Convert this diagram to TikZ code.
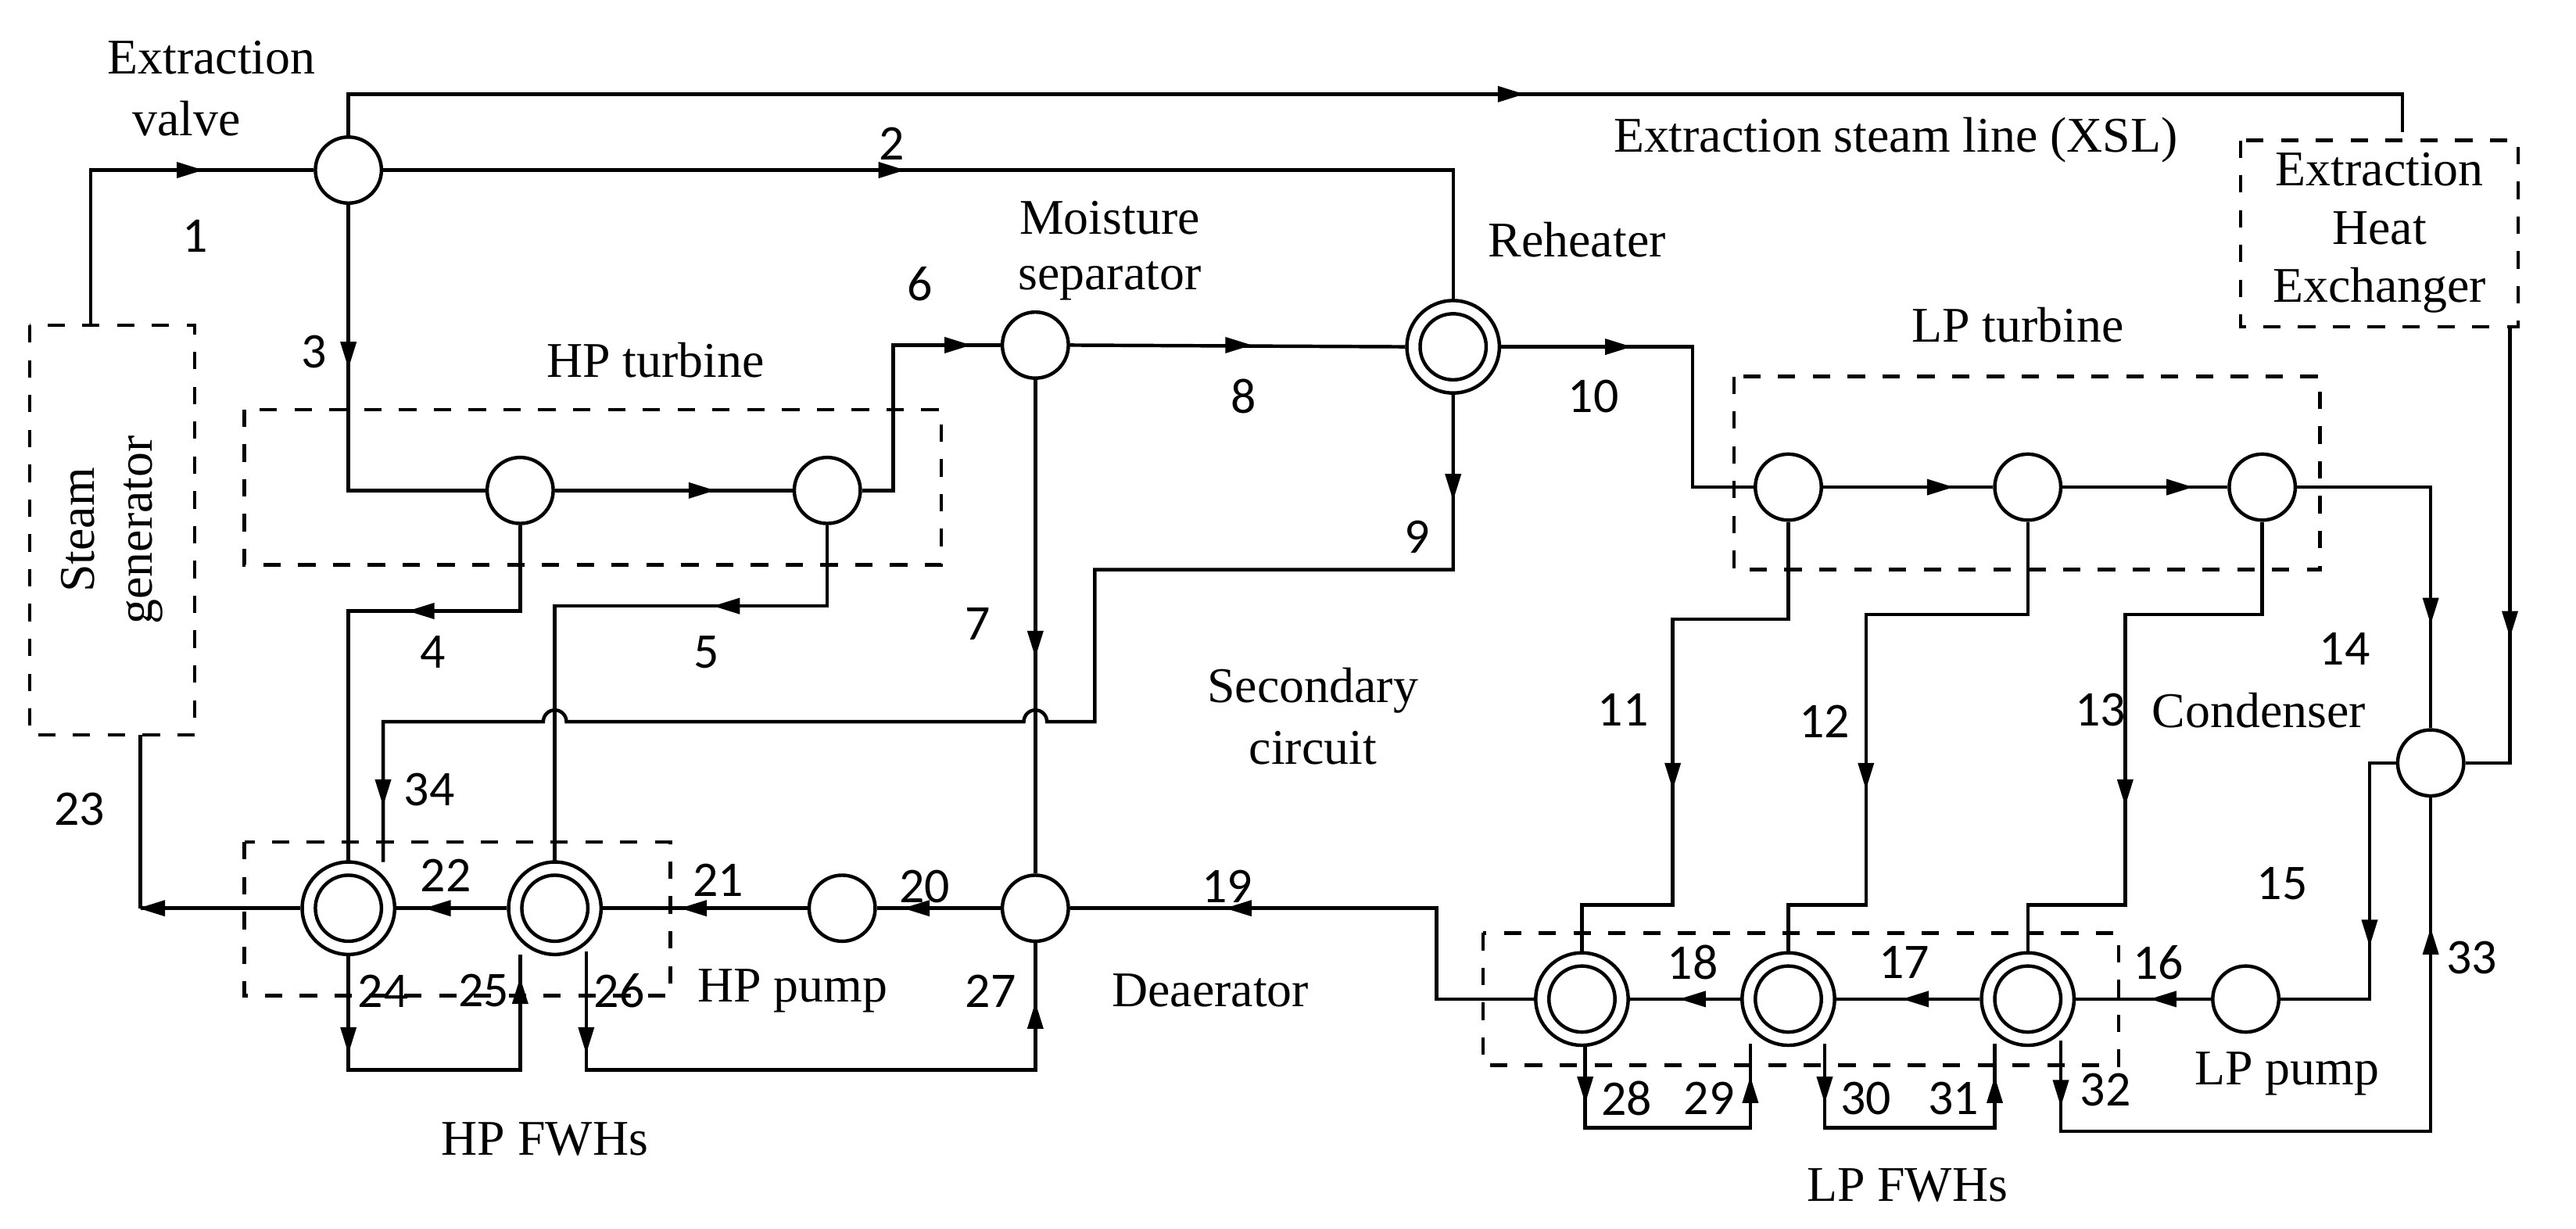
\documentclass[tikz,border=0pt]{standalone}
\usepackage{fontspec}
\setmainfont{Liberation Serif}
\newfontfamily\numf{Carlito}
\begin{document}
\begin{tikzpicture}[x=0.1mm,y=-0.1mm,line width=0.6pt,
 sc/.style={draw,circle,minimum size=4mm,inner sep=0pt},
 dc/.style={draw,circle,minimum size=5.6mm,inner sep=0pt},
 box/.style={draw,dashed,line width=0.6pt},
 lab/.style={font=\fontsize{8.6}{10}\selectfont,align=center},
 num/.style={font=\numf\fontsize{8.6}{10}\selectfont}]
\useasboundingbox (0,0) rectangle (1560,744);
\newcommand\tp[3]{\fill[shift={(#1,#2)},rotate=#3] (8,0) -- (-8,-5) -- (-8,5) -- cycle;}
% boxes
\draw[box] (18,197) rectangle (118,445);
\node[lab,rotate=90] at (68,321) {Steam\\generator};
\draw[box] (148,248) rectangle (570,342);
\draw[box] (1050,228) rectangle (1405,345);
\draw[box] (148,510) rectangle (406,603);
\draw[box] (898,565) rectangle (1283,645);
\draw[box] (1357,85) rectangle (1525,198);
\node[lab] (ehx) at (1441,141) {Extraction\\Heat\\Exchanger};
% nodes
\node[sc] (v) at (211,103) {};
\node[sc] (t1) at (315,297) {};
\node[sc] (t2) at (501,297) {};
\node[sc] (ms) at (627,209) {};
\node[dc] (rh) at (880,210) {}; \draw (rh) circle (20);
\node[sc] (l1) at (1083,295) {};
\node[sc] (l2) at (1228,295) {};
\node[sc] (l3) at (1370,295) {};
\node[sc] (cd) at (1472,462) {};
\node[dc] (h1) at (211,550) {}; \draw (h1) circle (20);
\node[dc] (h2) at (336,550) {}; \draw (h2) circle (20);
\node[sc] (hp) at (510,550) {};
\node[sc] (da) at (627,550) {};
\node[dc] (f1) at (958,605) {}; \draw (f1) circle (20);
\node[dc] (f2) at (1083,605) {}; \draw (f2) circle (20);
\node[dc] (f3) at (1228,605) {}; \draw (f3) circle (20);
\node[sc] (lp) at (1360,605) {};
% lines
\draw (55,197) |- (v.west); \tp{115}{103}{0}
\draw (v.north) -- (211,57) -| (ehx.north -| 1455,85); \tp{915}{57}{0}
\draw (v.east) -| (rh.north); \tp{540}{103}{0}
\draw (v.south) |- (t1.west); \tp{211}{215}{-90}
\draw (t1.east) -- (t2.west); \tp{425}{297}{0}
\draw (t2.east) -- (541,297) |- (ms.west); \tp{580}{209}{0}
\draw (ms.east) -- (rh.west); \tp{750}{209}{0}
\draw (rh.east) -| (1025,295) -- (l1.west); \tp{980}{210}{0}
\draw (l1.east) -- (l2.west); \tp{1175}{295}{0}
\draw (l2.east) -- (l3.west); \tp{1320}{295}{0}
\draw (l3.east) -| (cd.north); \tp{1472}{370}{-90}
\draw (1520,198) |- (cd.east); \tp{1520}{378}{-90}
\draw (ms.south) -- (da.north); \tp{627}{390}{-90}
\draw (rh.south) -- (880,345) -- (663,345) -- (663,437) -- (634,437)
  arc[start angle=0,end angle=-180,radius=7] -- (343,437)
  arc[start angle=0,end angle=-180,radius=7] -- (232,437) -- (232,522);
\tp{880}{295}{-90} \tp{232}{480}{-90}
\draw (t1.south) -- (315,370) -| (211,522); \tp{255}{370}{180}
\draw (t2.south) -- (501,367) -| (336,522); \tp{440}{367}{180}
\draw (da.west) -- (hp.east); \tp{555}{550}{180}
\draw (hp.west) -- (h2.east); \tp{420}{550}{180}
\draw (h2.west) -- (h1.east); \tp{265}{550}{180}
\draw (h1.west) -- (85,550); \tp{92}{550}{180}
\draw (85,445) -- (85,550);
\draw (211,578) -- (211,648) -- (315,648) -- (315,578); \tp{211}{630}{-90} \tp{315}{600}{90}
\draw (355,576) -- (355,648) -| (da.south); \tp{355}{630}{-90} \tp{627}{615}{90}
\draw (da.east) -- (870,550) |- (f1.west); \tp{750}{550}{180}
\draw (l1.south) |- (1013,375) |- (958,548) -- (f1.north); \tp{1013}{470}{-90}
\draw (l2.south) |- (1130,372) |- (1083,548) -- (f2.north); \tp{1130}{470}{-90}
\draw (l3.south) |- (1287,372) |- (1228,548) -- (f3.north); \tp{1287}{480}{-90}
\draw (cd.west) -- (1435,462) |- (lp.east); \tp{1435}{565}{-90}
\draw (lp.west) -- (f3.east); \tp{1310}{605}{180}
\draw (f3.west) -- (f2.east); \tp{1160}{605}{180}
\draw (f2.west) -- (f1.east); \tp{1025}{605}{180}
\draw (960,632) -- (960,683) -- (1060,683) -- (1060,632); \tp{960}{660}{-90} \tp{1060}{660}{90}
\draw (1105,632) -- (1105,683) -- (1208,683) -- (1208,632); \tp{1105}{660}{-90} \tp{1208}{660}{90}
\draw (1248,630) -- (1248,685) -| (cd.south); \tp{1248}{662}{-90} \tp{1472}{570}{90}
% labels
\node[lab] at (128,35) {Extraction}; \node[lab] at (113,72) {valve};
\node[lab] at (1148,85) {Extraction steam line (XSL)};
\node[lab] at (397,218) {HP turbine};
\node[lab] at (672,132) {Moisture}; \node[lab] at (672,170) {separator};
\node[lab] at (955,145) {Reheater};
\node[lab] at (1222,197) {LP turbine};
\node[lab] at (1368,430) {Condenser};
\node[lab] at (795,418) {Secondary}; \node[lab] at (795,453) {circuit};
\node[lab] at (480,600) {HP pump};
\node[lab] at (733,600) {Deaerator};
\node[lab] at (330,690) {HP FWHs};
\node[lab] at (1155,718) {LP FWHs};
\node[lab] at (1385,650) {LP pump};
\foreach \t/\x/\y in {1/118/143,2/540/87,3/190/213,4/262/395,5/428/395,6/557/172,7/592/378,8/753/240,9/858/325,10/965/240,11/983/430,12/1105/437,13/1272/430,14/1420/393,15/1382/535,16/1307/583,17/1153/583,18/1025/583,19/743/537,20/560/537,21/435/533,22/270/530,23/48/490,24/232/600,25/293/600,26/375/600,27/600/600,28/985/665,29/1035/665,30/1130/665,31/1183/665,32/1275/660,33/1497/580,34/260/478}
 \node[num] at (\x,\y) {\t};
\end{tikzpicture}
\end{document}
